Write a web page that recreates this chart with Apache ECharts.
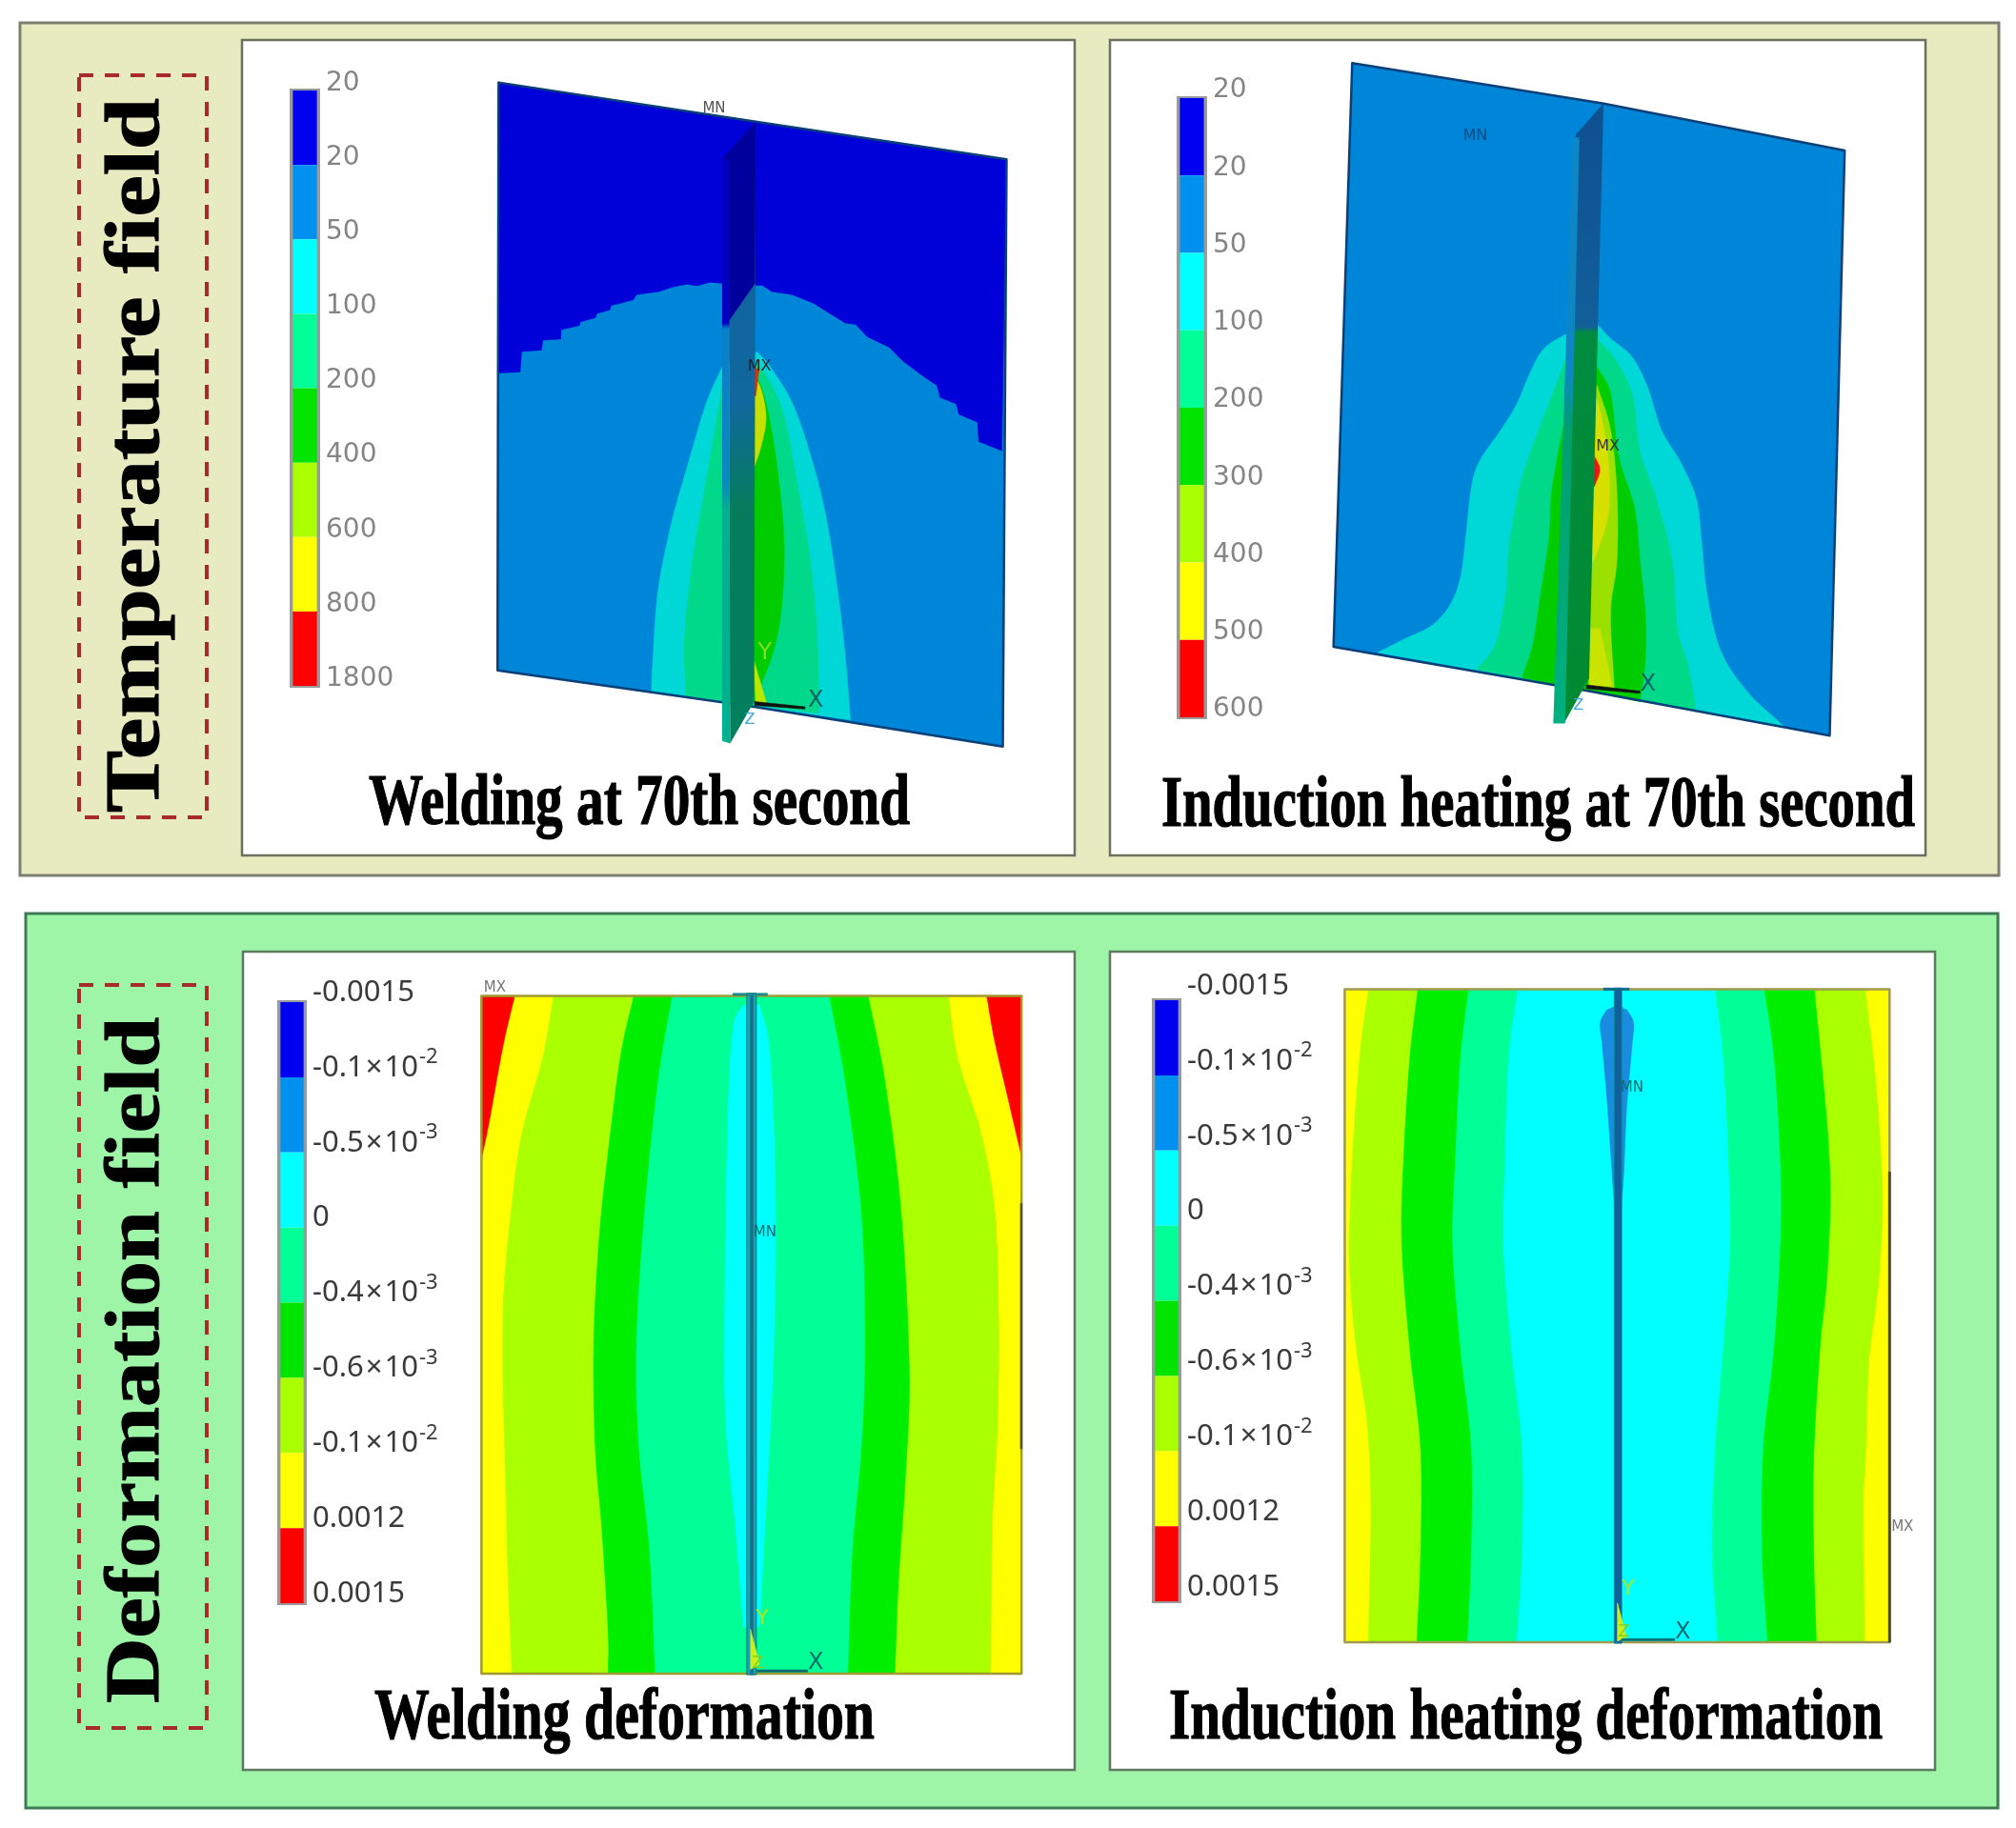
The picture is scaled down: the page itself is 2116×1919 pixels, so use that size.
<!DOCTYPE html>
<html><head><meta charset="utf-8">
<style>html,body{margin:0;padding:0;background:#fff}#c{width:2116px;height:1919px}</style>
<script src="https://cdn.jsdelivr.net/npm/echarts@6/dist/echarts.min.js"></script>
</head><body><div id="c"></div>
<script>
// ---------- colour-bar tick labels ----------
const tempWeldTicks = ['20','20','50','100','200','400','600','800','1800'];
const tempHeatTicks = ['20','20','50','100','200','300','400','500','600'];
const deformTicks = ['-0.0015','-0.1×10^-2','-0.5×10^-3','0','-0.4×10^-3','-0.6×10^-3','-0.1×10^-2','0.0012','0.0015'];
const levelSpan = [1,1,1,1,1,1,1,1];
const levelColors = ['#0000f0','#0090f0','#00ffff','#00ff96','#00e400','#aaff00','#ffff00','#ff0000'];
const shaded = {blue:'#0000d8',mid:'#0086d8',cyan:'#00d8d8',spring:'#00d88a',green:'#00cc00',lime:'#9ce000',yellow:'#e0e000',red:'#e00000'};
const flat = {mid:'#1a8ce0',cyan:'#00ffff',spring:'#00ff96',green:'#00ee00',lime:'#aaff00',yellow:'#ffff00',red:'#ff0000'};

// ---------- Welding temperature field (contour outlines, panel units) ----------
const t1Plate = [[487,85],[968,160],[1437,232],[1430,1356],[965,1280],[485,1210]];
const t1Cold = [[487,85],[968,160],[1437,232],[1428,790],[1422,787],[1385,772],[1383,735],[1348,720],[1343,700],[1313,688],[1307,665],[1277,644],[1242,617],[1218,592],[1176,571],[1155,548],[1135,545],[1105,526],[1075,507],[1036,491],[998,485],[980,473],[965,473],[903,469],[882,467],[858,474],[840,471],[814,476],[787,485],[745,491],[739,501],[697,512],[695,520],[671,527],[668,535],[640,543],[638,550],[604,558],[603,576],[570,578],[567,597],[530,600],[527,639],[487,641]];
const t1Cyan = [[773,1250],[775,1200],[785,1060],[810,930],[840,820],[875,700],[905,630],[971,601],[997,632],[1039,705],[1075,815],[1100,920],[1120,1050],[1135,1180],[1145,1305]];
const t1Spring = [[838,1260],[835,1150],[850,1000],[880,820],[900,700],[905,650],[965,615],[990,650],[1020,720],[1045,850],[1070,1000],[1083,1150],[1085,1292]];
const t1Green = [[960,625],[985,690],[1005,800],[1020,950],[1017,1080],[1002,1170],[975,1245],[965,1275]];
const t1Lime = [[964,640],[980,680],[987,730],[978,780],[964,825]];
const t1Red = [[962,628],[974,635],[968,685],[964,685]];
const t1Wedge = [[964,1190],[988,1272],[968,1272]];
const t1Rib = [[918,232],[968,160],[965,1270],[920,1350]];
const t1RibTop = [[905,232],[968,160],[966,470],[910,552]];
const t1Edge = [[905,232],[918,232],[920,1350],[905,1345]];
const t1Axis = [[966,1270],[1060,1280],[1060,1284],[966,1277]];
const t1Notes = [[890,135,'MN','#555',15],[975,628,'MX','#223',16],[1080,1268,'X','#0a5f66',24],[985,1178,'Y','#7fdc20',24],[957,1305,'Z','#40a8d8',16]];

// ---------- Induction heating temperature field ----------
const t2Plate = [[462,48],[930,125],[1383,215],[1355,1335],[905,1250],[427,1165]];
const t2Cyan = [[510,1176],[560,1150],[610,1125],[645,1085],[665,1030],[675,950],[685,860],[700,810],[740,750],[770,700],[795,640],[820,595],[860,568],[875,568],[918,545],[945,575],[985,610],[1015,670],[1040,750],[1075,810],[1105,880],[1115,960],[1125,1060],[1150,1170],[1200,1250],[1270,1318]];
const t2Spring = [[695,1208],[730,1160],[750,1060],[755,980],[775,860],[800,780],[830,700],[860,620],[875,590],[918,575],[950,610],[985,680],[1000,790],[1030,880],[1060,1000],[1070,1130],[1090,1200],[1105,1288]];
const t2Green = [[780,1224],[800,1160],[815,1060],[830,960],[835,870],[850,780],[870,680],[880,640],[920,630],[945,680],[960,800],[990,900],[1000,1000],[1010,1100],[1010,1190],[1000,1270]];
const t2Lime = [[905,660],[920,665],[945,750],[957,870],[957,1000],[945,1100],[952,1245],[905,1245]];
const t2YellowTop = [[905,675],[922,700],[940,800],[942,900],[925,970],[905,1015]];
const t2YellowLow = [[905,1130],[925,1130],[948,1240],[905,1240]];
const t2Red = [[912,795],[925,825],[915,858],[905,850],[905,800]];
const t2Rib = [[880,185],[932,125],[905,1225],[858,1312]];
const t2Edge = [[875,190],[887,190],[860,1312],[838,1312]];
const t2Axis = [[900,1238],[1000,1250],[1000,1254],[900,1245]];
const t2Notes = [[692,187,'MN','#0a4a80',16],[940,782,'MX','#334',16],[1015,1238,'X','#0a5f66',24],[885,1278,'Z','#40a8d8',16]];

// ---------- Welding deformation ----------
const d1Plate = [[455,83],[1465,83],[1465,1380],[455,1380]];
const d1RedL = [[455,83],[517,83],[495,180],[470,320],[455,395]];
const d1RedR = [[1400,83],[1465,83],[1465,390],[1440,280],[1415,170]];
const d1Lime = [[590,83],[570,200],[530,350],[510,500],[497,650],[495,800],[500,1000],[505,1200],[512,1380],[1407,1380],[1410,1100],[1420,900],[1422,700],[1415,500],[1390,350],[1345,200],[1328,83]];
const d1Green = [[740,83],[715,200],[690,400],[675,550],[665,750],[668,950],[680,1100],[692,1300],[692,1380],[1228,1380],[1235,1200],[1248,1000],[1255,800],[1240,500],[1210,250],[1178,83]];
const d1Spring = [[812,83],[785,250],[760,500],[745,750],[750,950],[770,1150],[780,1380],[1140,1380],[1148,1150],[1165,950],[1172,750],[1165,500],[1135,250],[1105,83]];
const d1Cyan = [[945,100],[925,150],[915,350],[910,700],[912,900],[930,1100],[945,1290],[975,1290],[985,1100],[1000,800],[1005,500],[995,200],[975,100]];
const d1Rib = [[951,78],[969,78],[969,1382],[951,1382]];
const d1Core = [[958,78],[963,78],[963,1382],[958,1382]];
const d1Cap = [[925,78],[990,78],[990,82],[925,82]];
const d1EdgeR = [[1463,480],[1466,480],[1466,950],[1463,950]];
const d1Wedge = [[958,1295],[975,1362],[958,1372]];
const d1Axis = [[970,1373],[1065,1373],[1065,1377],[970,1377]];
const d1Notes = [[480,67,'MX','#777',15],[985,537,'MN','#0a6a70',15],[1080,1360,'X','#0a6a70',24],[980,1275,'Y','#a8e820',22],[972,1360,'Z','#88d020',18]];

// ---------- Induction heating deformation ----------
const d2Plate = [[448,70],[1467,70],[1467,1320],[448,1320]];
const d2Lime = [[493,70],[478,180],[465,350],[458,500],[458,620],[470,760],[490,900],[497,1050],[495,1200],[492,1320],[1420,1320],[1418,1050],[1422,966],[1428,784],[1443,662],[1452,541],[1452,419],[1440,237],[1421,70]];
const d2Green = [[585,70],[570,200],[558,400],[555,560],[570,760],[590,950],[590,1150],[583,1320],[1330,1320],[1325,1150],[1325,966],[1337,754],[1349,632],[1356,480],[1352,358],[1339,206],[1326,70]];
const d2Spring = [[680,70],[665,200],[655,400],[650,560],[665,760],[685,950],[685,1150],[678,1320],[1238,1320],[1228,1150],[1230,950],[1250,760],[1262,560],[1262,400],[1250,200],[1232,70]];
const d2Cyan = [[772,70],[755,200],[748,400],[745,560],[760,760],[780,950],[780,1150],[770,1320],[1145,1320],[1135,1150],[1140,950],[1155,760],[1168,560],[1165,400],[1155,200],[1140,70]];
const d2Drop = [[957,103],[938,110],[926,135],[930,180],[940,300],[950,450],[957,520],[968,450],[975,300],[985,180],[988,135],[976,110]];
const d2Rib = [[952,68],[966,68],[966,1322],[952,1322]];
const d2Cap = [[932,68],[980,68],[980,72],[932,72]];
const d2EdgeR = [[1465,420],[1469,420],[1469,1320],[1465,1320]];
const d2Wedge = [[958,1245],[975,1310],[958,1318]];
const d2Axis = [[966,1313],[1065,1313],[1065,1317],[966,1317]];
const d2Notes = [[985,260,'MN','#0a6a70',15],[1491,1100,'MX','#777',15],[1080,1302,'X','#0a6a70',24],[978,1218,'Y','#a8e820',22],[970,1300,'Z','#88d020',18]];

// ---------- titles ----------
const panelTitles = ['Welding at 70th second','Induction heating at 70th second','Welding deformation','Induction heating deformation'];
const rowTitles = ['Temperature field','Deformation field'];

const vgrad = stops => new echarts.graphic.LinearGradient(0,0,0,1,stops.map(s=>({offset:s[0],color:s[1]})));
const ctx = document.createElement('canvas').getContext('2d');
const titleFont = 'bold 76px "Liberation Serif"', rowFont = 'bold 80px "Liberation Serif"';
function fit(text,font,w){ctx.font=font;return w/ctx.measureText(text).width;}

// Draws an outline as a smooth curve (like a line series' smooth option), keeping true corners sharp.
function curved(pts){
  const n=pts.length,out=[],corner=[],tan=[];
  for(let i=0;i<n;i++){
    const a=pts[(i+n-1)%n],b=pts[i],c=pts[(i+1)%n];
    const u=[b[0]-a[0],b[1]-a[1]],v=[c[0]-b[0],c[1]-b[1]];
    const cos=(u[0]*v[0]+u[1]*v[1])/(Math.hypot(u[0],u[1])*Math.hypot(v[0],v[1])||1);
    corner[i]=cos<0.75; tan[i]=[(c[0]-a[0])/2,(c[1]-a[1])/2];
  }
  for(let i=0;i<n;i++){
    const j=(i+1)%n,p=pts[i],q=pts[j],d=[q[0]-p[0],q[1]-p[1]];
    const m0=corner[i]?d:tan[i],m1=corner[j]?d:tan[j];
    for(let k=0;k<10;k++){
      const t=k/10,t2=t*t,t3=t2*t;
      const h1=2*t3-3*t2+1,h2=t3-2*t2+t,h3=-2*t3+3*t2,h4=t3-t2;
      out.push([h1*p[0]+h2*m0[0]+h3*q[0]+h4*m1[0],h1*p[1]+h2*m0[1]+h3*q[1]+h4*m1[1]]);
    }
  }
  return out;
}

const grids=[], xAxes=[], yAxes=[], series=[];
function plot(left,top){
  grids.push({left,top,width:880,height:860,show:false});
  xAxes.push({type:'value',min:0,max:1568,show:false,gridIndex:grids.length-1});
  yAxes.push({type:'value',min:0,max:1568,inverse:true,show:false,gridIndex:grids.length-1});
  return grids.length-1;
}
function region(g,pts,fill,stroke,lw,crisp){
  series.push({type:'custom',coordinateSystem:'cartesian2d',xAxisIndex:g,yAxisIndex:g,clip:false,silent:true,
    data:pts,encode:{x:0,y:1},
    renderItem(p,api){
      if(p.dataIndex!==0) return null;
      const px=pts.map(q=>api.coord(q));
      return {type:'polygon',shape:{points:crisp?px:curved(px)},
        style:{fill:fill||'none',stroke:stroke||(typeof fill==='string'?fill:'none'),lineWidth:lw||0.6,lineJoin:'round'}};
    }});
}
function notes(g,list){
  series.push({type:'custom',coordinateSystem:'cartesian2d',xAxisIndex:g,yAxisIndex:g,clip:false,silent:true,
    data:list.map(n=>[n[0],n[1]]),encode:{x:0,y:1},
    renderItem(p,api){
      const n=list[p.dataIndex],c=api.coord([n[0],n[1]]);
      return {type:'text',x:c[0],y:c[1],style:{text:n[2],fill:n[3],font:n[4]+'px "DejaVu Sans"',align:'center',verticalAlign:'middle'}};
    }});
}
function colorbar(left,top,width,height,ticks,family,size,color,pad){
  const g=grids.length;
  grids.push({left,top,width,height,show:true,backgroundColor:'#fff',borderColor:'#9a9a9a',borderWidth:4});
  xAxes.push({type:'category',data:['levels'],show:false,gridIndex:g});
  yAxes.push({type:'value',min:0,max:8,interval:1,inverse:true,position:'right',gridIndex:g,
    axisLine:{show:false},axisTick:{show:false},splitLine:{show:false},
    axisLabel:{show:true,margin:8,padding:[0,0,pad,0],align:'left',fontFamily:family,fontSize:size,color:color,
      formatter:v=>{
        const s=ticks[v].split('^'),m=s[0].split('×');
        return '{t|'+m[0]+'}'+(m[1]?'{x|×}{t|'+m[1]+'}':'')+(s[1]?'{s|'+s[1]+'}':'');
      },
      rich:{t:{fontFamily:family,fontSize:size,color:color,lineHeight:44},
            x:{fontFamily:family,fontSize:size,color:color,lineHeight:44,padding:[0,2,0,2]},
            s:{fontFamily:family,fontSize:22,color:color,lineHeight:44,padding:[0,0,22,1]}}}});
  levelSpan.forEach((v,i)=>series.push({type:'bar',stack:'lv'+g,xAxisIndex:g,yAxisIndex:g,barWidth:'90%',silent:true,
    data:[v],itemStyle:{color:levelColors[i]}}));
}

// panel 1
let g=plot(250,40);
region(g,t1Plate,shaded.mid,null,null,true);
region(g,t1Cold,shaded.blue,null,null,true);
region(g,t1Cyan,shaded.cyan);
region(g,t1Spring,shaded.spring);
region(g,t1Green,shaded.green);
region(g,t1Lime,'#c8e000');
region(g,t1Red,'#e03000');
region(g,t1Wedge,'#b8e800');
region(g,t1Plate,null,'#0a3f78',2.5,true);
region(g,t1Rib,vgrad([[0,'#10609e'],[.45,'#10689e'],[.62,'#047c5c'],[1,'#04805e']]),null,null,true);
region(g,t1RibTop,'#00009c',null,null,true);
region(g,t1Edge,vgrad([[0,'#0000c0'],[.28,'#0000c0'],[.29,'#0a80c8'],[.55,'#0a88c0'],[.6,'#00b090'],[1,'#00b090']]),null,null,true);
region(g,t1Axis,'#111',null,null,true);
notes(g,t1Notes);
// panel 2
g=plot(1160,40);
region(g,t2Plate,shaded.mid,null,null,true);
region(g,t2Cyan,shaded.cyan);
region(g,t2Spring,shaded.spring);
region(g,t2Green,shaded.green);
region(g,t2Lime,shaded.lime);
region(g,t2YellowTop,'#d8e000');
region(g,t2YellowLow,'#c8e400');
region(g,t2Red,'#e81818');
region(g,t2Plate,null,'#0a3f78',2.5,true);
region(g,t2Rib,vgrad([[0,'#0f4f90'],[.36,'#10609a'],[.37,'#008c40'],[1,'#008a30']]),null,null,true);
region(g,t2Edge,vgrad([[0,'#0c86c4'],[.4,'#0c86c4'],[.5,'#00a070'],[1,'#00b080']]),null,null,true);
region(g,t2Axis,'#111',null,null,true);
notes(g,t2Notes);
// panel 3
g=plot(250,1000);
region(g,d1Plate,flat.yellow,null,null,true);
region(g,d1RedL,flat.red);
region(g,d1RedR,flat.red);
region(g,d1Lime,flat.lime);
region(g,d1Green,flat.green);
region(g,d1Spring,flat.spring);
region(g,d1Cyan,flat.cyan);
region(g,d1Plate,null,'#a09a30',2.5,true);
region(g,d1EdgeR,'#4a4a30',null,null,true);
region(g,d1Rib,'#18a4b4','#0f6f80',1,true);
region(g,d1Core,'#186e84',null,null,true);
region(g,d1Cap,'#1a8a90',null,null,true);
region(g,d1Wedge,'#c8f020',null,null,true);
region(g,d1Axis,'#0a6a70',null,null,true);
notes(g,d1Notes);
// panel 4
g=plot(1160,1000);
region(g,d2Plate,flat.yellow,null,null,true);
region(g,d2Lime,flat.lime);
region(g,d2Green,flat.green);
region(g,d2Spring,flat.spring);
region(g,d2Cyan,flat.cyan);
region(g,d2Drop,flat.mid);
region(g,d2Plate,null,'#a09a50',2.5,true);
region(g,d2EdgeR,'#4a4a30',null,null,true);
region(g,d2Rib,'#10609c','#0a8aa0',1,true);
region(g,d2Cap,'#0a6a90',null,null,true);
region(g,d2Wedge,'#c8f020',null,null,true);
region(g,d2Axis,'#0a6a70',null,null,true);
notes(g,d2Notes);

// colour bars
const tFam='DejaVu Sans', dFam='Noto Sans';
colorbar(306,95,28,625,tempWeldTicks,tFam,28,'#858585',15);
colorbar(1237,103,28,650,tempHeatTicks,tFam,28,'#858585',16);
colorbar(293,1052,27,631,deformTicks,dFam,31,'#3a3a3a',20);
colorbar(1211,1050,27,631,deformTicks,dFam,31,'#3a3a3a',30);

const title=(i,x0,x1,y)=>({type:'text',x:x0,y,scaleX:fit(panelTitles[i],titleFont,x1-x0),
  style:{text:panelTitles[i],font:titleFont,fill:'#000',stroke:'#000',lineWidth:1.2,align:'left',verticalAlign:'middle'}});
const rowT=(i,y0,y1)=>({type:'text',x:145,y:y0,rotation:Math.PI/2,scaleX:fit(rowTitles[i],rowFont,y0-y1),
  style:{text:rowTitles[i],font:rowFont,fill:'#000',stroke:'#000',lineWidth:1.2,align:'left',verticalAlign:'middle'}});
const box=(x,y,w,h,fill,stroke,lw,dash)=>({type:'rect',z:-10,shape:{x,y,width:w,height:h},
  style:{fill:fill||'none',stroke,lineWidth:lw,lineDash:dash||null}});

const graphic=[
  box(21,24,2077,895,'#e8ebc0','#7c8070',3),
  box(27,959,2070,939,'#9ef5a8','#3f7a55',3),
  box(254,42,874,856,'#fff','#6d7060',2.5),
  box(1165,42,856,856,'#fff','#6d7060',2.5),
  box(255,999,873,859,'#fff','#5d7a60',2.5),
  box(1165,999,866,859,'#fff','#5d7a60',2.5),
  box(83,79,134,779,null,'#a82a2a',4,[15,12]),
  box(83,1034,134,780,null,'#a82a2a',4,[15,12]),
  title(0,387,955,845),
  title(1,1219,2010,847),
  title(2,393,918,1805),
  title(3,1227,1976,1805),
  rowT(0,853,103),
  rowT(1,1788,1068)
];

const chart=echarts.init(document.getElementById('c'),null,{renderer:'canvas'});
chart.setOption({animation:false,backgroundColor:'#fff',tooltip:{show:false},legend:{show:false},
  grid:grids,xAxis:xAxes,yAxis:yAxes,series,graphic});
</script></body></html>
